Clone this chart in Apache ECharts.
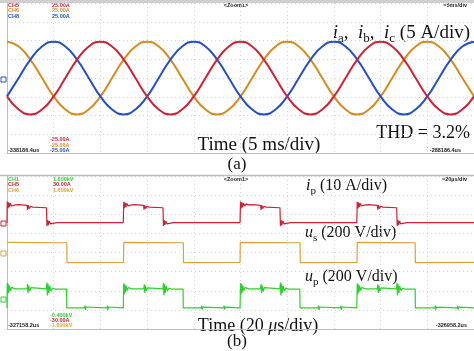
<!DOCTYPE html>
<html><head><meta charset="utf-8">
<script src="https://cdn.jsdelivr.net/npm/echarts@6/dist/echarts.min.js"></script>
<style>html,body{margin:0;padding:0;background:#fff}#c{width:474px;height:351px}</style>
</head><body><div id="c"></div>
<script>
// ---------- Panel (a): three-phase currents (A) vs time (ms) ----------
const timeA = [0,1.25,2.5,3.75,5,6.25,7.5,8.75,10,11.25,12.5,13.75,15,16.25,17.5,18.75,20,21.25,22.5,23.75,25,26.25,27.5,28.75,30,31.25,32.5,33.75,35,36.25,37.5,38.75,40,41.25,42.5,43.75,45,46.25,47.5,48.75,50];
const phaseOrange = [9.7,8.4,4.9,0,-4.9,-8.4,-9.7,-8.4,-4.9,0,4.9,8.4, 9.7,8.4,4.9,0,-4.9,-8.4,-9.7,-8.4,-4.9,0,4.9,8.4, 9.7,8.4,4.9,0,-4.9,-8.4,-9.7,-8.4,-4.9,0,4.9,8.4, 9.7,8.4,4.9,0,-4.9];
const phaseBlue   = [-4.9,0,4.9,8.4,9.7,8.4,4.9,0,-4.9,-8.4,-9.7,-8.4, -4.9,0,4.9,8.4,9.7,8.4,4.9,0,-4.9,-8.4,-9.7,-8.4, -4.9,0,4.9,8.4,9.7,8.4,4.9,0,-4.9,-8.4,-9.7,-8.4, -4.9,0,4.9,8.4,9.7];
const phaseRed    = [-4.9,-8.4,-9.7,-8.4,-4.9,0,4.9,8.4,9.7,8.4,4.9,0, -4.9,-8.4,-9.7,-8.4,-4.9,0,4.9,8.4,9.7,8.4,4.9,0, -4.9,-8.4,-9.7,-8.4,-4.9,0,4.9,8.4,9.7,8.4,4.9,0, -4.9,-8.4,-9.7,-8.4,-4.9];

// ---------- Panel (b): [time (us), value] ----------
const ipTrace = [
 [0,-4.4],[0.1,6.6],[0.4,3.1],[0.7,6.2],[1.0,3.7],[1.4,5.8],[1.9,4.3],[2.6,5.3],[3.6,4.9],[5,5.0],[8.6,4.6],[8.8,2.3],[9.1,4.8],[9.5,2.9],[10,4.2],[11,3.7],[16.9,3.4],[17.1,-6.2],[17.4,-3.0],[17.7,-5.7],[18.1,-3.5],[18.6,-5.0],[19.3,-4.0],[20.2,-4.6],[21.5,-4.4],[25.5,-4.4],[25.8,-3.6],[26.1,-4.9],[26.5,-4.4],[42.6,-4.4],[42.9,-3.6],[43.2,-4.9],[43.6,-4.4],[49.8,-4.4],
 [49.9,-4.4],[50.0,6.5],[50.3,3.2],[50.6,6.1],[50.9,3.8],[51.3,5.7],[51.8,4.4],[52.5,5.3],[53.5,4.9],[55,5.0],[58.5,4.6],[58.7,2.4],[59.0,4.7],[59.4,3.0],[59.9,4.1],[61,3.7],[66.8,3.4],[67.0,-6.1],[67.3,-3.1],[67.6,-5.6],[68.0,-3.6],[68.5,-5.0],[69.2,-4.0],[70.1,-4.6],[71.5,-4.4],[75.4,-4.4],[75.7,-3.6],[76.0,-4.8],[76.4,-4.4],[92.7,-4.4],[93.0,-3.7],[93.3,-4.9],[93.7,-4.4],[99.8,-4.4],
 [99.9,-4.4],[100.0,6.6],[100.3,3.0],[100.6,6.2],[100.9,3.6],[101.3,5.8],[101.8,4.3],[102.5,5.4],[103.5,4.9],[105,5.0],[108.6,4.6],[108.8,2.3],[109.1,4.8],[109.5,2.9],[110,4.2],[111,3.7],[116.9,3.4],[117.1,-6.2],[117.4,-3.0],[117.7,-5.7],[118.1,-3.5],[118.6,-5.0],[119.3,-4.0],[120.2,-4.6],[121.5,-4.4],[125.5,-4.4],[125.8,-3.6],[126.1,-4.9],[126.5,-4.4],[142.6,-4.4],[142.9,-3.6],[143.2,-4.9],[143.6,-4.4],[149.8,-4.4],
 [149.9,-4.4],[150.0,6.5],[150.3,3.1],[150.6,6.2],[150.9,3.7],[151.3,5.7],[151.8,4.3],[152.5,5.3],[153.5,4.9],[155,5.0],[158.6,4.6],[158.8,2.4],[159.1,4.8],[159.5,3.0],[160,4.2],[161,3.7],[166.9,3.4],[167.1,-6.1],[167.4,-3.1],[167.7,-5.6],[168.1,-3.5],[168.6,-5.0],[169.3,-4.0],[170.2,-4.6],[171.5,-4.4],[175.5,-4.4],[175.8,-3.6],[176.1,-4.9],[176.5,-4.4],[192.6,-4.4],[192.9,-3.6],[193.2,-4.9],[193.6,-4.4],[200,-4.4]
];
const usTrace = [
 [0,105],[25.6,102],[25.7,-105],[49.9,-104],[50.0,105],[75.5,102],[75.6,-105],[99.8,-104],[99.9,105],[125.5,102],[125.6,-105],[149.9,-104],[150.0,105],[174.8,102],[174.9,-105],[200,-104]
];
const upTrace = [
 [0,-100],[0.1,160],[0.3,40],[0.5,150],[0.8,60],[1.1,135],[1.5,80],[2,115],[2.7,95],[3.5,100],[8.6,100],[8.8,150],[9.0,55],[9.3,135],[9.7,75],[10.2,112],[11,98],[16.9,100],[17.1,165],[17.3,30],[17.6,150],[17.9,55],[18.3,130],[18.8,80],[19.5,108],[20.5,98],[25.5,98],[25.6,-100],[33.2,-100],[33.4,-75],[33.6,-120],[33.9,-90],[34.3,-102],[42.8,-100],[43.0,-75],[43.2,-120],[43.5,-90],[43.9,-102],[49.8,-100],
 [49.9,-100],[50.0,158],[50.2,42],[50.4,148],[50.7,62],[51.0,133],[51.4,82],[51.9,114],[52.6,96],[53.5,100],[58.6,100],[58.8,148],[59.0,56],[59.3,133],[59.7,76],[60.2,110],[61,98],[66.8,100],[67.0,162],[67.2,32],[67.5,148],[67.8,57],[68.2,128],[68.7,82],[69.4,106],[70.4,98],[75.4,98],[75.5,-100],[83.2,-100],[83.4,-76],[83.6,-118],[83.9,-91],[84.3,-102],[92.8,-100],[93.0,-76],[93.2,-118],[93.5,-91],[93.9,-102],[99.8,-100],
 [99.9,-100],[100.0,160],[100.2,40],[100.4,150],[100.7,60],[101.0,135],[101.4,80],[101.9,115],[102.6,95],[103.5,100],[108.6,100],[108.8,150],[109.0,55],[109.3,135],[109.7,75],[110.2,112],[111,98],[116.9,100],[117.1,165],[117.3,30],[117.6,150],[117.9,55],[118.3,130],[118.8,80],[119.5,108],[120.5,98],[125.4,98],[125.5,-100],[133.2,-100],[133.4,-75],[133.6,-120],[133.9,-90],[134.3,-102],[142.8,-100],[143.0,-75],[143.2,-120],[143.5,-90],[143.9,-102],[149.8,-100],
 [149.9,-100],[150.0,158],[150.2,42],[150.4,148],[150.7,62],[151.0,133],[151.4,82],[151.9,114],[152.6,96],[153.5,100],[158.6,100],[158.8,148],[159.0,56],[159.3,133],[159.7,76],[160.2,110],[161,98],[166.8,100],[167.0,162],[167.2,32],[167.5,148],[167.8,57],[168.2,128],[168.7,82],[169.4,106],[170.4,98],[174.8,98],[174.9,-100],[183.2,-100],[183.4,-76],[183.6,-118],[183.9,-91],[184.3,-102],[192.8,-100],[193.0,-76],[193.2,-118],[193.5,-91],[193.9,-102],[200,-100]
];

const C_RED = '#cf2236', C_ORA = '#d98a1c', C_BLU = '#2350c9';
const C_RED_B = '#cc2233', C_ORA_B = '#dca23a', C_GRN = '#2ed02e';

const SERIF = 'Liberation Serif';
function scopeText(x, y, text, color, align) {
  return {type:'text', x:x, y:y, silent:true, style:{text:text, fill:color, fontSize:5.5, fontWeight:'bold', fontFamily:'Liberation Sans', align:align||'left', verticalAlign:'middle', textAlign:align||'left', textVerticalAlign:'middle'}};
}
function richDefs(fs) {
  return {
    it:{fontStyle:'italic', fontSize:fs, fontFamily:SERIF, fill:'#111', lineHeight:fs+5, verticalAlign:'middle'},
    n:{fontSize:fs, fontFamily:SERIF, fill:'#111', lineHeight:fs+5, verticalAlign:'middle'},
    sb:{fontSize:Math.round(fs*0.68), fontFamily:SERIF, fill:'#111', lineHeight:Math.round(fs*0.76), verticalAlign:'bottom'}
  };
}
function label(x, y, text, fs, align) {
  return {type:'text', x:x, y:y, silent:true, style:{text:text, rich:richDefs(fs), fill:'#111', fontSize:fs, fontFamily:SERIF, align:align||'left', verticalAlign:'middle', textAlign:align||'left', textVerticalAlign:'middle'}};
}
function marker(x, y, color) {
  return {type:'rect', shape:{x:x, y:y, width:5, height:5}, silent:true, style:{fill:'#fff', stroke:color, lineWidth:1}};
}

const graphic = [
  {type:'rect', shape:{x:0, y:0, width:474, height:3}, silent:true, style:{fill:'#cfcfcf'}},
  {type:'line', shape:{x1:0, y1:175.5, x2:474, y2:175.5}, silent:true, style:{stroke:'#bdbdbd', lineWidth:1.5}},
  scopeText(8, 5, 'CH5', C_RED), scopeText(52, 5, '25.00A', C_RED),
  scopeText(8, 10.5, 'CH6', C_ORA), scopeText(52, 10.5, '25.00A', C_ORA),
  scopeText(8, 16, 'CH8', C_BLU), scopeText(52, 16, '25.00A', C_BLU),
  scopeText(236, 5.5, '<Zoom1>', '#222', 'center'),
  scopeText(467, 5, '=5ms/div', '#222', 'right'),
  scopeText(50, 139, '-25.00A', C_RED), scopeText(50, 145, '-25.00A', C_ORA), scopeText(50, 150.5, '-25.00A', C_BLU),
  scopeText(8, 150.5, '-338186.4us', '#222'),
  scopeText(461, 150.5, '-288186.4us', '#222', 'right'),
  scopeText(8, 179, 'CH1', C_GRN), scopeText(53, 179, '1.600kV', C_GRN),
  scopeText(8, 184.5, 'CH5', C_RED_B), scopeText(53, 184.5, '30.00A', C_RED_B),
  scopeText(8, 190, 'CH6', C_ORA_B), scopeText(53, 190, '1.600kV', C_ORA_B),
  scopeText(236, 179, '<Zoom1>', '#222', 'center'),
  scopeText(467, 179.5, '=20\u00b5s/div', '#222', 'right'),
  scopeText(50, 315, '-0.400kV', C_GRN), scopeText(50, 320, '-30.00A', C_RED_B), scopeText(50, 325.5, '-1.600kV', C_ORA_B),
  scopeText(8, 325.5, '-327158.2us', '#222'),
  scopeText(467, 325.5, '-326958.2us', '#222', 'right'),
  marker(1, 77, C_BLU), marker(1, 221, C_RED_B), marker(1, 251, C_ORA_B), marker(1, 297, C_GRN),
  label(470, 33, '{it|i}{sb|a}{n|,  }{it|i}{sb|b}{n|,  }{it|i}{sb|c}{n| (5 A/div)}', 19, 'right'),
  label(470, 133, '{n|THD = 3.2%}', 18, 'right'),
  label(259, 145, '{n|Time (5 ms/div)}', 19, 'center'),
  label(237, 165, '{n|(a)}', 17, 'center'),
  label(306, 186, '{it|i}{sb|p}{n| (10 A/div)}', 16),
  label(305, 233, '{it|u}{sb|s}{n| (200 V/div)}', 16),
  label(305, 277, '{it|u}{sb|p}{n| (200 V/div)}', 16),
  label(258, 326, '{n|Time (20 }{it|\u03bc}{n|s/div)}', 18, 'center'),
  label(237, 342, '{n|(b)}', 17, 'center')
];

const gridLine = {show:true, lineStyle:{color:'#d4d4d4', type:[1,3], width:1}};
const edge = {show:true, onZero:false, lineStyle:{color:'#bdbdbd', width:1}};

const option = {
  animation:false,
  backgroundColor:'#fff',
  grid:[{left:7, right:0, top:3, height:150}, {left:7, right:0, top:176, height:153}],
  xAxis:[
    {gridIndex:0, type:'value', min:0, max:50, interval:5, axisLabel:{show:false}, axisTick:{show:false}, axisLine:edge, splitLine:gridLine},
    {gridIndex:1, type:'value', min:0, max:200, interval:20, axisLabel:{show:false}, axisTick:{show:false}, axisLine:edge, splitLine:gridLine}
  ],
  yAxis:[
    {gridIndex:0, type:'value', min:-20, max:20, interval:5, axisLabel:{show:false}, axisTick:{show:false}, axisLine:edge, splitLine:gridLine},
    {gridIndex:1, type:'value', min:-4, max:4, interval:1, axisLabel:{show:false}, axisTick:{show:false}, axisLine:edge, splitLine:gridLine},
    {gridIndex:1, type:'value', min:-60, max:20, show:false},
    {gridIndex:1, type:'value', min:-800, max:800, show:false},
    {gridIndex:1, type:'value', min:-320, max:1280, show:false}
  ],
  series:[
    {type:'line', xAxisIndex:0, yAxisIndex:0, data:timeA.map((t,i)=>[t, phaseOrange[i]]), smooth:0.5, showSymbol:false, lineStyle:{color:C_ORA, width:2}},
    {type:'line', xAxisIndex:0, yAxisIndex:0, data:timeA.map((t,i)=>[t, phaseBlue[i]]), smooth:0.5, showSymbol:false, lineStyle:{color:C_BLU, width:2}},
    {type:'line', xAxisIndex:0, yAxisIndex:0, data:timeA.map((t,i)=>[t, phaseRed[i]]), smooth:0.5, showSymbol:false, lineStyle:{color:C_RED, width:2}},
    {type:'line', xAxisIndex:1, yAxisIndex:2, data:ipTrace, showSymbol:false, lineStyle:{color:C_RED_B, width:1.2}},
    {type:'line', xAxisIndex:1, yAxisIndex:3, data:usTrace, showSymbol:false, lineStyle:{color:C_ORA_B, width:1.2}},
    {type:'line', xAxisIndex:1, yAxisIndex:4, data:upTrace, showSymbol:false, lineStyle:{color:C_GRN, width:1.2}}
  ],
  graphic:graphic
};
const chart = echarts.init(document.getElementById('c'), null, {renderer:'canvas'});
chart.setOption(option);
</script>
</body></html>
